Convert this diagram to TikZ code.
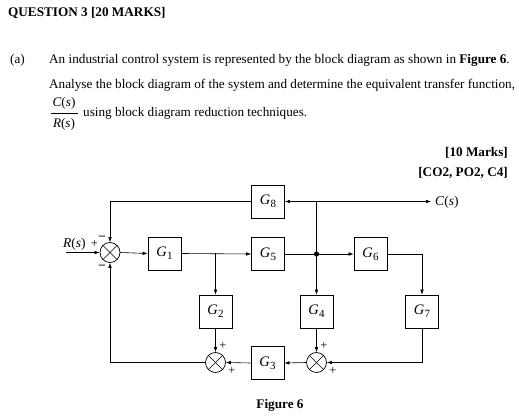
\documentclass[tikz,border=0pt]{standalone}
\usepackage{fontspec}
\setmainfont{Liberation Serif}
\usetikzlibrary{arrows.meta}
\newcommand{\Gb}[1]{\textit{G}\kern0.2pt\raisebox{-0.4ex}{\fontsize{11}{11}\selectfont #1}}
\begin{document}
\begin{tikzpicture}[x=1pt,y=-1pt,
  blk/.style={draw,line width=0.7pt,minimum width=33pt,minimum height=33pt,inner sep=0pt,font=\fontsize{14.5}{14.5}\selectfont},
  sumj/.style={draw,circle,line width=0.7pt,minimum size=20pt,inner sep=0pt},
  ln/.style={line width=0.6pt},
  ar/.style={ln,-{Latex[length=5pt,width=3.6pt]}},
  txt/.style={font=\fontsize{13.2}{15}\selectfont,inner sep=0pt,anchor=west},
  bt/.style={txt,font=\bfseries\fontsize{13.2}{15}\selectfont},
  lab/.style={txt,font=\fontsize{13.5}{13.5}\selectfont},
  sg/.style={font=\fontsize{12.5}{12.5}\selectfont,inner sep=0pt}]
\useasboundingbox (0,0) rectangle (519,419);
% text
\node[bt] (q) at (8,13) {QUESTION 3 [20 MARKS]};
\node[txt] (a) at (10,60) {(a)};
\node[txt] (l1) at (49,60) {An industrial control system is represented by the block diagram as shown in \textbf{Figure 6}.};
\node[txt] (l2) at (49,85) {Analyse the block diagram of the system and determine the equivalent transfer function,};
\node[txt,anchor=center] (fn) at (64,103.5) {\textit{C}(\textit{s})};
\node[txt,anchor=center] (fd) at (64,124) {\textit{R}(\textit{s})};
\draw[line width=0.6pt] (50.5,113.5) -- (78,113.5);
\node[txt] (l3) at (83,113) {using block diagram reduction techniques.};
\node[bt,anchor=east] (m1) at (508,153) {[10 Marks]};
\node[bt,anchor=east] (m2) at (508,173) {[CO2, PO2, C4]};
\node[bt,anchor=center] (fig) at (280,405) {Figure 6};
% blocks
\node[blk] (g1) at (164.5,253.5) {\Gb{1}};
\node[blk] (g5) at (268,254) {\Gb{5}};
\node[blk] (g8) at (268,201.5) {\Gb{8}};
\node[blk] (g6) at (370.5,254) {\Gb{6}};
\node[blk] (g2) at (215.5,311.5) {\Gb{2}};
\node[blk] (g4) at (316.5,311.5) {\Gb{4}};
\node[blk] (g7) at (422,311.5) {\Gb{7}};
\node[blk] (g3) at (267.5,363) {\Gb{3}};
% summing junctions
\node[sumj] (s1) at (110,252.5) {};
\node[sumj] (s2) at (215.5,362.5) {};
\node[sumj] (s3) at (316.5,362.5) {};
\foreach \s in {s1,s2,s3}{
  \draw[ln] (\s.north west) -- (\s.south east);
  \draw[ln] (\s.north east) -- (\s.south west);}
% points
\coordinate (rin) at (66,252.5);
\coordinate (b1) at (215.5,253.5);
\coordinate (j) at (316.5,254);
\coordinate (t) at (316.5,201.5);
\coordinate (cs) at (431,201.5);
\fill (j) circle (2.6pt);
% connectors
\draw[ar] (rin) -- (s1.west);
\draw[ar] (s1.east) -- (g1.west);
\draw[ar] (g1.east) -- (g5.west);
\draw[ar] (b1) -- (g2.north);
\draw[ln] (g5.east) -- (j);
\draw[ar] (j) -- (g6.west);
\draw[ln] (j) -- (t);
\draw[ar] (t) -- (g8.east);
\draw[ar] (t) -- (cs);
\draw[ar] (g8.west) -| (s1.north);
\draw[ar] (j) -- (g4.north);
\draw[ar] (g6.east) -| (g7.north);
\draw[ar] (g2.south) -- (s2.north);
\draw[ar] (g4.south) -- (s3.north);
\draw[ar] (g7.south) |- (s3.east);
\draw[ar] (s3.west) -- (g3.east);
\draw[ar] (g3.west) -- (s2.east);
\draw[ar] (s2.west) -| (s1.south);
% labels
\node[lab] (rl) at (63,244) {\textit{R}(\textit{s})};
\node[lab] (cl) at (435,202) {\textit{C}(\textit{s})};
\node[sg] (p1) at (94.5,244) {+};
\node[sg] (m1s) at (102,237.5) {\textbf{--}};
\node[sg] (m2s) at (102,266.5) {\textbf{--}};
\node[sg] (p2) at (223,346) {+};
\node[sg] (p3) at (232,370.5) {+};
\node[sg] (p4) at (324,346) {+};
\node[sg] (p5) at (333,370.5) {+};
\end{tikzpicture}
\end{document}
